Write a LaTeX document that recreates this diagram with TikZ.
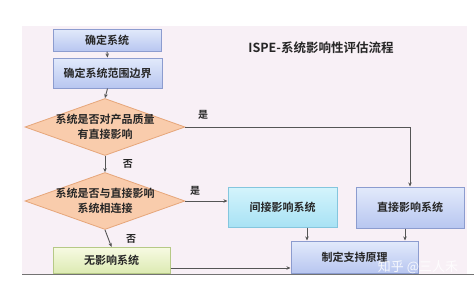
\documentclass[tikz,border=0pt]{standalone}
\usepackage{fontspec}
\setmainfont{Noto Sans CJK SC}[BoldFont={Noto Sans CJK SC Bold}]
\usetikzlibrary{shapes.geometric,arrows.meta,calc}
\definecolor{panel}{HTML}{F8F0F6}
\definecolor{bluetop}{HTML}{E2EAFB}
\definecolor{bluebot}{HTML}{B8C6F0}
\definecolor{blueedge}{HTML}{8C9CCF}
\definecolor{cyantop}{HTML}{D4F4FC}
\definecolor{cyanbot}{HTML}{A8E2F4}
\definecolor{cyanedge}{HTML}{84C6DE}
\definecolor{greentop}{HTML}{F6FAE2}
\definecolor{greenbot}{HTML}{DCEAB2}
\definecolor{greenedge}{HTML}{B6C986}
\definecolor{peach}{HTML}{F9CCAC}
\definecolor{peachedge}{HTML}{E6A67A}
\definecolor{linec}{HTML}{555555}
\tikzset{
  bluebox/.style={draw=blueedge, line width=1pt, top color=bluetop, bottom color=bluebot, inner sep=0pt, font=\fontsize{11}{13}\selectfont\bfseries, text=black!85},
  cyanbox/.style={bluebox, draw=cyanedge, top color=cyantop, bottom color=cyanbot},
  greenbox/.style={bluebox, draw=greenedge, top color=greentop, bottom color=greenbot},
  dia/.style={diamond, draw=peachedge, line width=0.8pt, fill=peach, inner sep=0pt, minimum width=160pt, minimum height=57pt},
  dtext/.style={align=center, font=\fontsize{11}{14.5}\selectfont\bfseries, text=black!85},
  arr/.style={draw=linec, line width=0.9pt, -{Stealth[length=4pt,width=3.5pt]}},
  ln/.style={draw=linec, line width=0.9pt},
  lab/.style={font=\fontsize{10}{12}\selectfont\bfseries, text=black!85}
}
\begin{document}
\begin{tikzpicture}[x=1pt,y=-1pt]
\useasboundingbox (0,0) rectangle (474,289);
\fill[white] (0,0) rectangle (474,289);
\fill[panel] (22,26) rectangle (467,274);
\node[font=\fontsize{12.5}{14}\selectfont\bfseries, text=black!85] (title) at (321,48) {ISPE-系统影响性评估流程};

\node[bluebox, minimum width=108pt, minimum height=22pt] (b1) at (107,40) {确定系统};
\node[bluebox, minimum width=109pt, minimum height=30pt] (b2) at (107.5,73) {确定系统范围边界};
\node[dia] (d1) at (105,127) {};
\node[dtext] (t1) at (d1.center) {系统是否对产品质量\\有直接影响};
\node[dia] (d2) at (105,201) {};
\node[dtext] (t2) at (d2.center) {系统是否与直接影响\\系统相连接};
\node[greenbox, minimum width=117pt, minimum height=26pt] (none) at (111.5,260.5) {无影响系统};
\node[cyanbox, minimum width=109pt, minimum height=40pt] (ind) at (282.5,207) {间接影响系统};
\node[bluebox, minimum width=108pt, minimum height=41pt] (dir) at (410,207.5) {直接影响系统};
\node[bluebox, minimum width=127pt, minimum height=32pt] (sup) at (354.5,257) {制定支持原理};

\draw[arr] (b1.south) -- (b2.north);
\draw[arr] (b2.south) -- (d1.north);
\draw[arr] (d1.south) -- (d2.north) node[lab, midway, right=14pt] (n1) {否};
\draw[arr] (d1.east) -- (d1.east -| dir.north) -- (dir.north);
\node[lab] (y1) at (203,115) {是};
\draw[arr] (d2.east) -- (d2.east -| ind.west);
\node[lab] (y2) at (195,191) {是};
\draw[arr] (d2.south) -- (none.north) node[lab, midway, right=14pt] (n2) {否};
\draw[arr] ([yshift=6pt]none.south east) -- ([yshift=6pt]none.south east -| sup.west);
\draw[arr] ([xshift=24.5pt]ind.south) -- ([xshift=24.5pt]ind.south |- sup.north);
\draw[arr] ([xshift=-5pt]dir.south) -- ([xshift=-5pt]dir.south |- sup.north);

\draw[draw=black!55, line width=0.8pt] (22,274) -- (474,274);
\node[font=\fontsize{13}{15}\selectfont, text=white, opacity=0.85] (wm) at (418,267) {知乎 @三人禾};
\end{tikzpicture}
\end{document}
